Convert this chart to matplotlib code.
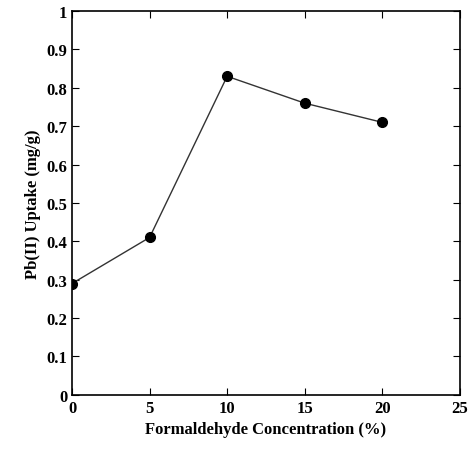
import matplotlib
matplotlib.use("Agg")
import matplotlib.pyplot as plt

conc = [0, 5, 10, 15, 20]
uptake = [0.29, 0.41, 0.83, 0.76, 0.71]
yticks = [0, 0.1, 0.2, 0.3, 0.4, 0.5, 0.6, 0.7, 0.8, 0.9, 1.0]
ylabels = ['0', '0.1', '0.2', '0.3', '0.4', '0.5', '0.6', '0.7', '0.8', '0.9', '1']
xticks = [0, 5, 10, 15, 20, 25]

plt.rcParams['font.family'] = ['Liberation Serif', 'DejaVu Serif']
plt.rcParams['font.weight'] = 'bold'

fig = plt.figure(figsize=(4.74, 4.64), dpi=100)
ax = fig.add_axes([0.152, 0.147, 0.818, 0.827])
ax.plot(conc, uptake, color='#333333', lw=1, marker='o', ms=7, mfc='black', mec='black')
ax.set_xlim(0, 25)
ax.set_ylim(0, 1)
ax.set_xticks(xticks)
ax.set_yticks(yticks)
ax.set_yticklabels(ylabels)
ax.tick_params(direction='in', which='both', top=True, right=True, labelsize=12, length=5)
ax.set_xlabel('Formaldehyde Concentration (%)', fontsize=12, fontweight='bold')
ax.set_ylabel('Pb(II) Uptake (mg/g)', fontsize=12, fontweight='bold')
for s in ax.spines.values():
    s.set_linewidth(1.2)
fig.savefig('out.png', dpi=100)
